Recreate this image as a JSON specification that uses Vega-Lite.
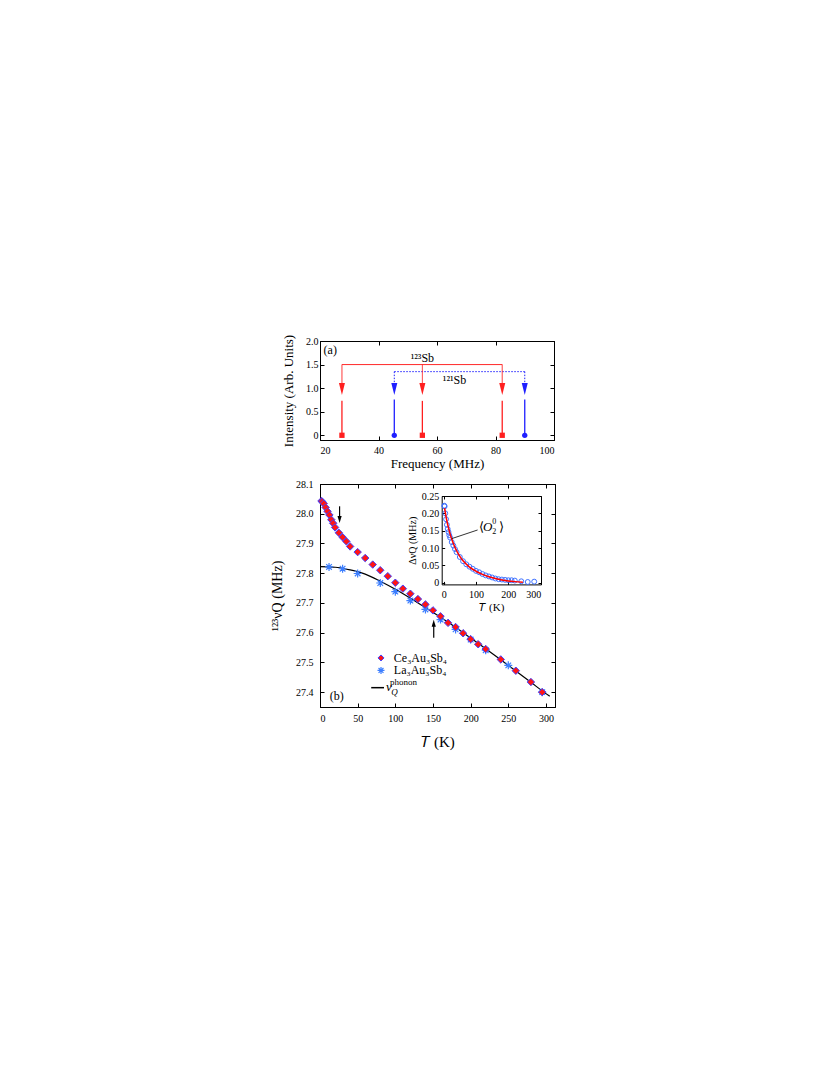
{
  "$schema": "https://vega.github.io/schema/vega-lite/v6.json",
  "background": "white",
  "padding": {"left": 270, "top": 333, "right": 5, "bottom": 5},
  "spacing": 7,
  "config": {
    "font": "Liberation Serif",
    "view": {"stroke": "black", "strokeWidth": 1},
    "legend": {"disable": true},
    "axis": {
      "grid": false, "domainColor": "black", "tickColor": "black", "labelColor": "black", "titleColor": "black",
      "tickSize": -4, "labelPadding": 10, "labelFontSize": 10, "titleFontSize": 13, "titleFontWeight": "normal",
      "labelFont": "Liberation Serif", "titleFont": "Liberation Serif"
    },
    "text": {"font": "Liberation Serif", "color": "black"}
  },
  "datasets": {
    "peaks": [
      {"isotope": "123Sb", "freq": 27.5, "intensity": 0.73, "level": 1.5},
      {"isotope": "123Sb", "freq": 55.0, "intensity": 0.73, "level": 1.5},
      {"isotope": "123Sb", "freq": 82.3, "intensity": 0.73, "level": 1.5},
      {"isotope": "121Sb", "freq": 45.4, "intensity": 0.76, "level": 1.35},
      {"isotope": "121Sb", "freq": 90.0, "intensity": 0.76, "level": 1.35}
    ],
    "ce": [
      {"T": 2, "nuQ": 28.043}, {"T": 3, "nuQ": 28.04}, {"T": 5, "nuQ": 28.034}, {"T": 7.5, "nuQ": 28.021},
      {"T": 10, "nuQ": 28.008}, {"T": 12.5, "nuQ": 27.996}, {"T": 15, "nuQ": 27.98}, {"T": 17.5, "nuQ": 27.968},
      {"T": 20, "nuQ": 27.954}, {"T": 25, "nuQ": 27.936}, {"T": 30, "nuQ": 27.921}, {"T": 35, "nuQ": 27.907},
      {"T": 40, "nuQ": 27.89}, {"T": 50, "nuQ": 27.871}, {"T": 60, "nuQ": 27.851}, {"T": 70, "nuQ": 27.829},
      {"T": 80, "nuQ": 27.81}, {"T": 90, "nuQ": 27.79}, {"T": 100, "nuQ": 27.768}, {"T": 110, "nuQ": 27.748},
      {"T": 120, "nuQ": 27.731}, {"T": 130, "nuQ": 27.713}, {"T": 140, "nuQ": 27.695}, {"T": 150, "nuQ": 27.675},
      {"T": 160, "nuQ": 27.655}, {"T": 170, "nuQ": 27.633}, {"T": 180, "nuQ": 27.619}, {"T": 190, "nuQ": 27.598},
      {"T": 200, "nuQ": 27.578}, {"T": 210, "nuQ": 27.561}, {"T": 220, "nuQ": 27.545}, {"T": 240, "nuQ": 27.51},
      {"T": 260, "nuQ": 27.472}, {"T": 280, "nuQ": 27.434}, {"T": 295, "nuQ": 27.4}
    ],
    "la": [
      {"T": 12, "nuQ": 27.821}, {"T": 30, "nuQ": 27.815}, {"T": 50, "nuQ": 27.799}, {"T": 80, "nuQ": 27.767},
      {"T": 100, "nuQ": 27.738}, {"T": 120, "nuQ": 27.708}, {"T": 140, "nuQ": 27.678}, {"T": 160, "nuQ": 27.644},
      {"T": 180, "nuQ": 27.611}, {"T": 200, "nuQ": 27.577}, {"T": 220, "nuQ": 27.541}, {"T": 250, "nuQ": 27.49},
      {"T": 295, "nuQ": 27.4}
    ],
    "phonon": [
      {"T": 0, "nuQ": 27.822}, {"T": 20, "nuQ": 27.82}, {"T": 40, "nuQ": 27.811}, {"T": 60, "nuQ": 27.797},
      {"T": 80, "nuQ": 27.773}, {"T": 100, "nuQ": 27.746}, {"T": 120, "nuQ": 27.716}, {"T": 140, "nuQ": 27.684},
      {"T": 160, "nuQ": 27.652}, {"T": 180, "nuQ": 27.618}, {"T": 200, "nuQ": 27.582}, {"T": 220, "nuQ": 27.546},
      {"T": 240, "nuQ": 27.509}, {"T": 260, "nuQ": 27.471}, {"T": 280, "nuQ": 27.433}, {"T": 300, "nuQ": 27.395},
      {"T": 305, "nuQ": 27.386}
    ],
    "delta": [
      {"T": 2, "dnu": 0.222}, {"T": 3, "dnu": 0.22}, {"T": 5, "dnu": 0.2}, {"T": 7.5, "dnu": 0.183},
      {"T": 10, "dnu": 0.167}, {"T": 12.5, "dnu": 0.155}, {"T": 15, "dnu": 0.146}, {"T": 17.5, "dnu": 0.137},
      {"T": 20, "dnu": 0.13}, {"T": 25, "dnu": 0.117}, {"T": 30, "dnu": 0.107}, {"T": 35, "dnu": 0.097},
      {"T": 40, "dnu": 0.088}, {"T": 50, "dnu": 0.074}, {"T": 60, "dnu": 0.062}, {"T": 70, "dnu": 0.053},
      {"T": 80, "dnu": 0.046}, {"T": 90, "dnu": 0.04}, {"T": 100, "dnu": 0.034}, {"T": 110, "dnu": 0.03},
      {"T": 120, "dnu": 0.025}, {"T": 130, "dnu": 0.021}, {"T": 140, "dnu": 0.018}, {"T": 150, "dnu": 0.015},
      {"T": 160, "dnu": 0.012}, {"T": 170, "dnu": 0.01}, {"T": 180, "dnu": 0.009}, {"T": 190, "dnu": 0.008},
      {"T": 200, "dnu": 0.007}, {"T": 210, "dnu": 0.007}, {"T": 220, "dnu": 0.006}, {"T": 240, "dnu": 0.004},
      {"T": 260, "dnu": 0.002}, {"T": 280, "dnu": 0.003}
    ],
    "fit": [
      {"T": 3, "dnu": 0.215}, {"T": 6, "dnu": 0.198}, {"T": 10, "dnu": 0.178}, {"T": 15, "dnu": 0.158},
      {"T": 20, "dnu": 0.14}, {"T": 30, "dnu": 0.113}, {"T": 40, "dnu": 0.092}, {"T": 50, "dnu": 0.076},
      {"T": 60, "dnu": 0.063}, {"T": 80, "dnu": 0.045}, {"T": 100, "dnu": 0.033}, {"T": 120, "dnu": 0.024},
      {"T": 140, "dnu": 0.017}, {"T": 160, "dnu": 0.012}, {"T": 180, "dnu": 0.008}, {"T": 200, "dnu": 0.005},
      {"T": 220, "dnu": 0.003}, {"T": 245, "dnu": 0.001}
    ]
  },
  "vconcat": [
    {
      "width": 234,
      "height": 99,
      "data": {"name": "peaks"},
      "resolve": {"scale": {"x": "independent", "y": "independent"}},
      "layer": [
        {
          "transform": [{"aggregate": [{"op": "min", "field": "freq", "as": "fmin"}, {"op": "max", "field": "freq", "as": "fmax"}], "groupby": ["isotope", "level"]}],
          "mark": {"type": "rule", "strokeWidth": 1},
          "encoding": {
            "x": {"field": "fmin", "type": "quantitative",
                  "scale": {"domain": [20, 100], "nice": false, "zero": false},
                  "axis": {"values": [20, 40, 60, 80, 100], "title": "Frequency (MHz)", "titlePadding": 2, "labelPadding": 9}},
            "x2": {"field": "fmax"},
            "y": {"field": "level", "type": "quantitative",
                  "scale": {"domain": [-0.1, 2], "nice": false, "zero": false},
                  "axis": {"values": [0, 0.5, 1, 1.5, 2], "labelExpr": "datum.value == 0 ? '0' : format(datum.value, '.1f')",
                           "title": "Intensity (Arb. Units)", "labelPadding": 6, "titlePadding": 10}},
            "color": {"field": "isotope", "type": "nominal", "scale": {"domain": ["123Sb", "121Sb"], "range": ["#ff1f1f", "#1f1fff"]}},
            "strokeDash": {"field": "isotope", "type": "nominal", "scale": {"domain": ["123Sb", "121Sb"], "range": [[1, 0], [1.5, 1.5]]}}
          }
        },
        {
          "mark": {"type": "rule", "strokeWidth": 1},
          "encoding": {
            "x": {"field": "freq", "type": "quantitative",
                  "scale": {"domain": [20, 100], "nice": false, "zero": false},
                  "axis": {"orient": "top", "labels": false, "title": null, "values": [20, 40, 60, 80, 100]}},
            "y": {"field": "level", "type": "quantitative",
                  "scale": {"domain": [-0.1, 2], "nice": false, "zero": false},
                  "axis": {"orient": "right", "labels": false, "title": null, "values": [0, 0.5, 1, 1.5, 2]}},
            "y2": {"datum": 1.05},
            "color": {"field": "isotope", "type": "nominal"},
            "strokeDash": {"field": "isotope", "type": "nominal"}
          }
        },
        {
          "mark": {"type": "point", "shape": "M-0.5,-1L0.5,-1L0,1Z", "filled": true, "size": 144, "opacity": 1},
          "encoding": {
            "x": {"field": "freq", "type": "quantitative", "scale": {"domain": [20, 100], "nice": false, "zero": false}, "axis": null},
            "y": {"datum": 0.98, "type": "quantitative", "scale": {"domain": [-0.1, 2], "nice": false, "zero": false}, "axis": null},
            "color": {"field": "isotope", "type": "nominal"}
          }
        },
        {
          "mark": {"type": "rule", "strokeWidth": 1.3},
          "encoding": {
            "x": {"field": "freq", "type": "quantitative", "scale": {"domain": [20, 100], "nice": false, "zero": false}, "axis": null},
            "y": {"field": "intensity", "type": "quantitative", "scale": {"domain": [-0.1, 2], "nice": false, "zero": false}, "axis": null},
            "y2": {"datum": 0},
            "color": {"field": "isotope", "type": "nominal"}
          }
        },
        {
          "mark": {"type": "point", "filled": true, "size": 28, "opacity": 1},
          "encoding": {
            "x": {"field": "freq", "type": "quantitative", "scale": {"domain": [20, 100], "nice": false, "zero": false}, "axis": null},
            "y": {"datum": 0, "type": "quantitative", "scale": {"domain": [-0.1, 2], "nice": false, "zero": false}, "axis": null},
            "color": {"field": "isotope", "type": "nominal"},
            "shape": {"field": "isotope", "type": "nominal", "scale": {"domain": ["123Sb", "121Sb"], "range": ["square", "circle"]}}
          }
        },
        {
          "data": {"values": [{}]},
          "mark": {"type": "text", "text": "(a)", "fontSize": 12, "align": "center", "baseline": "middle"},
          "encoding": {
            "x": {"datum": 23.5, "type": "quantitative", "scale": {"domain": [20, 100], "nice": false, "zero": false}, "axis": null},
            "y": {"datum": 1.81, "type": "quantitative", "scale": {"domain": [-0.1, 2], "nice": false, "zero": false}, "axis": null}
          }
        },
        {
          "data": {"values": [{}]},
          "mark": {"type": "text", "text": "¹²³Sb", "fontSize": 12, "align": "center", "baseline": "middle"},
          "encoding": {
            "x": {"datum": 55, "type": "quantitative", "scale": {"domain": [20, 100], "nice": false, "zero": false}, "axis": null},
            "y": {"datum": 1.64, "type": "quantitative", "scale": {"domain": [-0.1, 2], "nice": false, "zero": false}, "axis": null}
          }
        },
        {
          "data": {"values": [{}]},
          "mark": {"type": "text", "text": "¹²¹Sb", "fontSize": 12, "align": "center", "baseline": "middle"},
          "encoding": {
            "x": {"datum": 66, "type": "quantitative", "scale": {"domain": [20, 100], "nice": false, "zero": false}, "axis": null},
            "y": {"datum": 1.17, "type": "quantitative", "scale": {"domain": [-0.1, 2], "nice": false, "zero": false}, "axis": null}
          }
        }
      ]
    },
    {
      "width": 235,
      "height": 223,
      "resolve": {"scale": {"x": "independent", "y": "independent"}},
      "layer": [
        {
          "data": {"name": "phonon"},
          "mark": {"type": "line", "color": "black", "strokeWidth": 1.2, "interpolate": "monotone"},
          "encoding": {
            "x": {"field": "T", "type": "quantitative",
                  "scale": {"domain": [0, 312], "nice": false, "zero": false},
                  "axis": {"values": [0, 50, 100, 150, 200, 250, 300], "title": "𝑇 (K)", "titleFontSize": 15, "titlePadding": 11}},
            "y": {"field": "nuQ", "type": "quantitative",
                  "scale": {"domain": [27.35, 28.1], "nice": false, "zero": false},
                  "axis": {"values": [27.4, 27.5, 27.6, 27.7, 27.8, 27.9, 28.0, 28.1], "format": ".1f",
                           "title": "¹²³νQ (MHz)", "titleFontSize": 14, "labelPadding": 11, "titlePadding": 11}}
          }
        },
        {
          "data": {"name": "la"},
          "mark": {"type": "point", "shape": "M0,-1L0,1M-1,0L1,0M-0.7,-0.7L0.7,0.7M-0.7,0.7L0.7,-0.7", "size": 64, "strokeWidth": 1.2, "color": "#3d7fff", "opacity": 1},
          "encoding": {
            "x": {"field": "T", "type": "quantitative", "scale": {"domain": [0, 312], "nice": false, "zero": false},
                  "axis": {"orient": "top", "labels": false, "title": null, "values": [0, 50, 100, 150, 200, 250, 300]}},
            "y": {"field": "nuQ", "type": "quantitative", "scale": {"domain": [27.35, 28.1], "nice": false, "zero": false},
                  "axis": {"orient": "right", "labels": false, "title": null, "values": [27.4, 27.5, 27.6, 27.7, 27.8, 27.9, 28.0, 28.1]}}
          }
        },
        {
          "data": {"name": "ce"},
          "mark": {"type": "point", "shape": "diamond", "size": 55, "filled": true, "fill": "#ff1414", "stroke": "#4040ff", "strokeWidth": 1, "opacity": 1},
          "encoding": {
            "x": {"field": "T", "type": "quantitative", "scale": {"domain": [0, 312], "nice": false, "zero": false}, "axis": null},
            "y": {"field": "nuQ", "type": "quantitative", "scale": {"domain": [27.35, 28.1], "nice": false, "zero": false}, "axis": null}
          }
        },
        {
          "data": {"values": [{}]},
          "mark": {"type": "rule", "color": "black", "strokeWidth": 1.2},
          "encoding": {
            "x": {"datum": 26, "type": "quantitative", "scale": {"domain": [0, 312], "nice": false, "zero": false}, "axis": null},
            "y": {"datum": 28.025, "type": "quantitative", "scale": {"domain": [27.35, 28.1], "nice": false, "zero": false}, "axis": null},
            "y2": {"datum": 27.985}
          }
        },
        {
          "data": {"values": [{}]},
          "mark": {"type": "point", "shape": "M-0.6,-1L0.6,-1L0,1Z", "size": 49, "filled": true, "color": "black", "opacity": 1},
          "encoding": {
            "x": {"datum": 26, "type": "quantitative", "scale": {"domain": [0, 312], "nice": false, "zero": false}, "axis": null},
            "y": {"datum": 27.981, "type": "quantitative", "scale": {"domain": [27.35, 28.1], "nice": false, "zero": false}, "axis": null}
          }
        },
        {
          "data": {"values": [{}]},
          "mark": {"type": "rule", "color": "black", "strokeWidth": 1.2},
          "encoding": {
            "x": {"datum": 151, "type": "quantitative", "scale": {"domain": [0, 312], "nice": false, "zero": false}, "axis": null},
            "y": {"datum": 27.583, "type": "quantitative", "scale": {"domain": [27.35, 28.1], "nice": false, "zero": false}, "axis": null},
            "y2": {"datum": 27.628}
          }
        },
        {
          "data": {"values": [{}]},
          "mark": {"type": "point", "shape": "M-0.6,1L0.6,1L0,-1Z", "size": 49, "filled": true, "color": "black", "opacity": 1},
          "encoding": {
            "x": {"datum": 151, "type": "quantitative", "scale": {"domain": [0, 312], "nice": false, "zero": false}, "axis": null},
            "y": {"datum": 27.632, "type": "quantitative", "scale": {"domain": [27.35, 28.1], "nice": false, "zero": false}, "axis": null}
          }
        },
        {
          "data": {"values": [{}]},
          "mark": {"type": "text", "text": "(b)", "fontSize": 12, "align": "left", "baseline": "middle"},
          "encoding": {
            "x": {"datum": 13, "type": "quantitative", "scale": {"domain": [0, 312], "nice": false, "zero": false}, "axis": null},
            "y": {"datum": 27.386, "type": "quantitative", "scale": {"domain": [27.35, 28.1], "nice": false, "zero": false}, "axis": null}
          }
        },
        {
          "data": {"values": [{}]},
          "mark": {"type": "point", "shape": "diamond", "size": 36, "filled": true, "fill": "#ff1414", "stroke": "#4040ff", "strokeWidth": 1, "opacity": 1},
          "encoding": {
            "x": {"datum": 81, "type": "quantitative", "scale": {"domain": [0, 312], "nice": false, "zero": false}, "axis": null},
            "y": {"datum": 27.515, "type": "quantitative", "scale": {"domain": [27.35, 28.1], "nice": false, "zero": false}, "axis": null}
          }
        },
        {
          "data": {"values": [{}]},
          "mark": {"type": "text", "text": "Ce₃Au₃Sb₄", "fontSize": 12, "align": "left", "baseline": "middle"},
          "encoding": {
            "x": {"datum": 98, "type": "quantitative", "scale": {"domain": [0, 312], "nice": false, "zero": false}, "axis": null},
            "y": {"datum": 27.515, "type": "quantitative", "scale": {"domain": [27.35, 28.1], "nice": false, "zero": false}, "axis": null}
          }
        },
        {
          "data": {"values": [{}]},
          "mark": {"type": "point", "shape": "M0,-1L0,1M-1,0L1,0M-0.7,-0.7L0.7,0.7M-0.7,0.7L0.7,-0.7", "size": 49, "strokeWidth": 1.2, "color": "#3d7fff", "opacity": 1},
          "encoding": {
            "x": {"datum": 81, "type": "quantitative", "scale": {"domain": [0, 312], "nice": false, "zero": false}, "axis": null},
            "y": {"datum": 27.473, "type": "quantitative", "scale": {"domain": [27.35, 28.1], "nice": false, "zero": false}, "axis": null}
          }
        },
        {
          "data": {"values": [{}]},
          "mark": {"type": "text", "text": "La₃Au₃Sb₄", "fontSize": 12, "align": "left", "baseline": "middle"},
          "encoding": {
            "x": {"datum": 98, "type": "quantitative", "scale": {"domain": [0, 312], "nice": false, "zero": false}, "axis": null},
            "y": {"datum": 27.473, "type": "quantitative", "scale": {"domain": [27.35, 28.1], "nice": false, "zero": false}, "axis": null}
          }
        },
        {
          "data": {"values": [{}]},
          "mark": {"type": "rule", "color": "black", "strokeWidth": 1.5},
          "encoding": {
            "x": {"datum": 68, "type": "quantitative", "scale": {"domain": [0, 312], "nice": false, "zero": false}, "axis": null},
            "x2": {"datum": 85},
            "y": {"datum": 27.415, "type": "quantitative", "scale": {"domain": [27.35, 28.1], "nice": false, "zero": false}, "axis": null}
          }
        },
        {
          "data": {"values": [{}]},
          "mark": {"type": "text", "text": "ν", "fontSize": 13, "fontStyle": "italic", "align": "left", "baseline": "middle"},
          "encoding": {
            "x": {"datum": 87.5, "type": "quantitative", "scale": {"domain": [0, 312], "nice": false, "zero": false}, "axis": null},
            "y": {"datum": 27.416, "type": "quantitative", "scale": {"domain": [27.35, 28.1], "nice": false, "zero": false}, "axis": null}
          }
        },
        {
          "data": {"values": [{}]},
          "mark": {"type": "text", "text": "Q", "fontSize": 9, "fontStyle": "italic", "align": "left", "baseline": "middle"},
          "encoding": {
            "x": {"datum": 94.5, "type": "quantitative", "scale": {"domain": [0, 312], "nice": false, "zero": false}, "axis": null},
            "y": {"datum": 27.399, "type": "quantitative", "scale": {"domain": [27.35, 28.1], "nice": false, "zero": false}, "axis": null}
          }
        },
        {
          "data": {"values": [{}]},
          "mark": {"type": "text", "text": "phonon", "fontSize": 9, "align": "left", "baseline": "middle"},
          "encoding": {
            "x": {"datum": 93, "type": "quantitative", "scale": {"domain": [0, 312], "nice": false, "zero": false}, "axis": null},
            "y": {"datum": 27.433, "type": "quantitative", "scale": {"domain": [27.35, 28.1], "nice": false, "zero": false}, "axis": null}
          }
        },
        {
          "data": {"name": "delta"},
          "mark": {"type": "point", "shape": "circle", "size": 24, "filled": false, "stroke": "#3f72ff", "strokeWidth": 1, "opacity": 1},
          "encoding": {
            "x": {"field": "T", "type": "quantitative",
                  "scale": {"domain": [-6, 301], "range": [121.7, 221], "nice": false, "zero": false},
                  "axis": {"orient": "bottom", "offset": -122.6, "values": [0, 100, 200, 300], "title": "𝑇 (K)",
                           "titleFontSize": 11, "titlePadding": 2, "tickSize": -3, "labelPadding": 8}},
            "y": {"field": "dnu", "type": "quantitative",
                  "scale": {"domain": [-0.005, 0.25], "range": [100.4, 12], "nice": false, "zero": false},
                  "axis": {"orient": "left", "offset": -121.7, "values": [0, 0.05, 0.1, 0.15, 0.2, 0.25],
                           "labelExpr": "datum.value == 0 ? '0' : format(datum.value, '.2f')",
                           "title": "ΔνQ (MHz)", "titleFontSize": 10, "titlePadding": 4, "tickSize": -3, "labelPadding": 6}}
          }
        },
        {
          "data": {"name": "fit"},
          "mark": {"type": "line", "color": "#ff0000", "strokeWidth": 1.5, "interpolate": "monotone"},
          "encoding": {
            "x": {"field": "T", "type": "quantitative",
                  "scale": {"domain": [-6, 301], "range": [121.7, 221], "nice": false, "zero": false},
                  "axis": {"orient": "top", "offset": -12, "labels": false, "title": null, "values": [0, 100, 200, 300], "tickSize": -3}},
            "y": {"field": "dnu", "type": "quantitative",
                  "scale": {"domain": [-0.005, 0.25], "range": [100.4, 12], "nice": false, "zero": false},
                  "axis": {"orient": "right", "offset": -14, "labels": false, "title": null, "values": [0, 0.05, 0.1, 0.15, 0.2, 0.25], "tickSize": -3}}
          }
        },
        {
          "data": {"values": [{}]},
          "mark": {"type": "rule", "color": "black", "strokeWidth": 0.8},
          "encoding": {
            "x": {"datum": 105, "type": "quantitative", "scale": {"domain": [-6, 301], "range": [121.7, 221], "nice": false, "zero": false}, "axis": null},
            "y": {"datum": 0.152, "type": "quantitative", "scale": {"domain": [-0.005, 0.25], "range": [100.4, 12], "nice": false, "zero": false}, "axis": null},
            "x2": {"datum": 25},
            "y2": {"datum": 0.127}
          }
        },
        {
          "data": {"values": [{}]},
          "mark": {"type": "text", "text": "⟨", "fontSize": 13, "align": "left", "baseline": "middle"},
          "encoding": {
            "x": {"datum": 108, "type": "quantitative", "scale": {"domain": [-6, 301], "range": [121.7, 221], "nice": false, "zero": false}, "axis": null},
            "y": {"datum": 0.16, "type": "quantitative", "scale": {"domain": [-0.005, 0.25], "range": [100.4, 12], "nice": false, "zero": false}, "axis": null}
          }
        },
        {
          "data": {"values": [{}]},
          "mark": {"type": "text", "text": "O", "fontSize": 13, "fontStyle": "italic", "align": "left", "baseline": "middle"},
          "encoding": {
            "x": {"datum": 122, "type": "quantitative", "scale": {"domain": [-6, 301], "range": [121.7, 221], "nice": false, "zero": false}, "axis": null},
            "y": {"datum": 0.16, "type": "quantitative", "scale": {"domain": [-0.005, 0.25], "range": [100.4, 12], "nice": false, "zero": false}, "axis": null}
          }
        },
        {
          "data": {"values": [{}]},
          "mark": {"type": "text", "text": "0", "fontSize": 8, "align": "left", "baseline": "middle"},
          "encoding": {
            "x": {"datum": 150, "type": "quantitative", "scale": {"domain": [-6, 301], "range": [121.7, 221], "nice": false, "zero": false}, "axis": null},
            "y": {"datum": 0.174, "type": "quantitative", "scale": {"domain": [-0.005, 0.25], "range": [100.4, 12], "nice": false, "zero": false}, "axis": null}
          }
        },
        {
          "data": {"values": [{}]},
          "mark": {"type": "text", "text": "2", "fontSize": 8, "align": "left", "baseline": "middle"},
          "encoding": {
            "x": {"datum": 150, "type": "quantitative", "scale": {"domain": [-6, 301], "range": [121.7, 221], "nice": false, "zero": false}, "axis": null},
            "y": {"datum": 0.145, "type": "quantitative", "scale": {"domain": [-0.005, 0.25], "range": [100.4, 12], "nice": false, "zero": false}, "axis": null}
          }
        },
        {
          "data": {"values": [{}]},
          "mark": {"type": "text", "text": "⟩", "fontSize": 13, "align": "left", "baseline": "middle"},
          "encoding": {
            "x": {"datum": 170, "type": "quantitative", "scale": {"domain": [-6, 301], "range": [121.7, 221], "nice": false, "zero": false}, "axis": null},
            "y": {"datum": 0.16, "type": "quantitative", "scale": {"domain": [-0.005, 0.25], "range": [100.4, 12], "nice": false, "zero": false}, "axis": null}
          }
        }
      ]
    }
  ]
}
